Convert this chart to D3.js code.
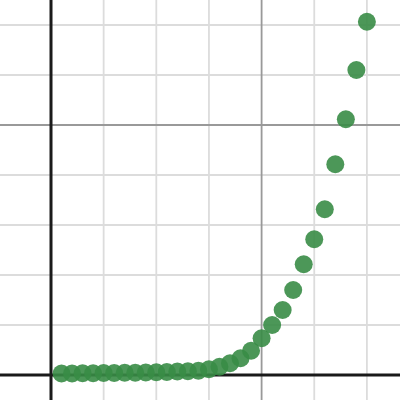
<!DOCTYPE html>
<html><head><meta charset="utf-8">
<script src="https://cdn.jsdelivr.net/npm/d3@7"></script>
<style>html,body{margin:0;padding:0;background:#fff;overflow:hidden}</style>
</head><body><svg id="c" width="400" height="400"></svg>
<script>
const xValues = [0.1,0.2,0.3,0.4,0.5,0.6,0.7,0.8,0.9,1.0,1.1,1.2,1.3,1.4,1.5,1.6,1.7,1.8,1.9,2.0,2.1,2.2,2.3,2.4,2.5,2.6,2.7,2.8,2.9,3.0];
const yValues = [6,6,7,7,8,8,9,9,10,11,12,14,15,17,23,33,47,67,97,147,200,260,340,443,543,663,843,1023,1220,1413];
const xMinorTicks = [-0.5,0.5,1,1.5,2.5,3];
const xMajorTicks = [2];
const yMinorTicks = [-200,200,400,600,800,1200,1400];
const yMajorTicks = [1000];

const W = 400, H = 400;
const x = d3.scaleLinear().domain([-51/105.3, 349/105.3]).range([0, W]);
const y = d3.scaleLinear().domain([-100, 1500]).range([H, 0]);
const svg = d3.select("#c");

const g = svg.append("g");
g.selectAll(".vx").data(xMinorTicks).join("line")
  .attr("x1", d => x(d)).attr("x2", d => x(d)).attr("y1", 0).attr("y2", H)
  .attr("stroke", "#dcdcdc").attr("stroke-width", 1.8);
g.selectAll(".hy").data(yMinorTicks).join("line")
  .attr("y1", d => y(d)).attr("y2", d => y(d)).attr("x1", 0).attr("x2", W)
  .attr("stroke", "#dcdcdc").attr("stroke-width", 1.8);
g.selectAll(".vX").data(xMajorTicks).join("line")
  .attr("x1", d => x(d)).attr("x2", d => x(d)).attr("y1", 0).attr("y2", H)
  .attr("stroke", "#999").attr("stroke-width", 1.8);
g.selectAll(".hY").data(yMajorTicks).join("line")
  .attr("y1", d => y(d)).attr("y2", d => y(d)).attr("x1", 0).attr("x2", W)
  .attr("stroke", "#999").attr("stroke-width", 1.8);

// axes
svg.append("line").attr("x1", 0).attr("x2", W).attr("y1", y(0)).attr("y2", y(0))
  .attr("stroke", "#1a1a1a").attr("stroke-width", 3);
svg.append("line").attr("x1", x(0)).attr("x2", x(0)).attr("y1", 0).attr("y2", H)
  .attr("stroke", "#1a1a1a").attr("stroke-width", 3);

const pts = xValues.map((v, i) => ({x: v, y: yValues[i]}));
svg.append("g").selectAll("circle").data(pts).join("circle")
  .attr("cx", d => x(d.x)).attr("cy", d => y(d.y)).attr("r", 9)
  .attr("fill", "#388c46").attr("fill-opacity", 0.9);
</script></body></html>
